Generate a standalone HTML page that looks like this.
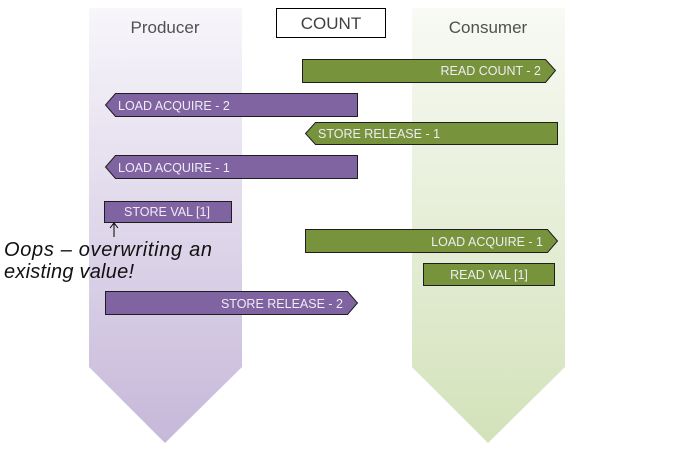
<!DOCTYPE html>
<html><head><meta charset="utf-8"><style>html,body{margin:0;padding:0;background:#fff}</style></head><body>
<svg width="684" height="455" xmlns="http://www.w3.org/2000/svg" font-family="Liberation Sans, sans-serif">
<defs>
<linearGradient id="gp" x1="0" y1="0" x2="0" y2="1"><stop offset="0" stop-color="#f8f6fb"/><stop offset="1" stop-color="#c6b8d9"/></linearGradient>
<linearGradient id="gg" x1="0" y1="0" x2="0" y2="1"><stop offset="0" stop-color="#f8faf4"/><stop offset="1" stop-color="#d3e2ba"/></linearGradient>
</defs>
<polygon points="89,8 242,8 242,367 165,443 89,367" fill="url(#gp)"/>
<polygon points="412,8 565,8 565,367 488,443 412,367" fill="url(#gg)"/>
<text x="165" y="33" font-size="17" fill="#505050" text-anchor="middle">Producer</text>
<text x="488" y="33" font-size="17" fill="#505050" text-anchor="middle">Consumer</text>
<rect x="276.5" y="8.5" width="109" height="29" fill="#fff" stroke="#000"/>
<text x="331" y="29" font-size="17" fill="#404040" text-anchor="middle">COUNT</text>
<g stroke="#1e1e1e" stroke-width="1" font-size="12.5">
<polygon points="302.5,59.5 545.5,59.5 555.5,70.5 545.5,82.5 302.5,82.5" fill="#77933c"/>
<polygon points="115.5,93.5 357.5,93.5 357.5,116.5 115.5,116.5 105.5,105" fill="#8064a2"/>
<polygon points="315.5,122.5 557.5,122.5 557.5,144.5 315.5,144.5 305.5,133.5" fill="#77933c"/>
<polygon points="115.5,155.5 357.5,155.5 357.5,178.5 115.5,178.5 105.5,167" fill="#8064a2"/>
<rect x="104.5" y="201.5" width="127" height="21" fill="#8064a2"/>
<polygon points="305.5,229.5 547.5,229.5 557.5,241 547.5,252.5 305.5,252.5" fill="#77933c"/>
<rect x="423.5" y="263.5" width="131" height="22" fill="#77933c"/>
<polygon points="105.5,291.5 347.5,291.5 357.5,303 347.5,314.5 105.5,314.5" fill="#8064a2"/>
</g>
<g font-size="12.5" fill="#f0ecf5" stroke="none">
<text x="541" y="75" text-anchor="end">READ COUNT - 2</text>
<text x="118" y="110">LOAD ACQUIRE - 2</text>
<text x="318" y="138">STORE RELEASE - 1</text>
<text x="118" y="172">LOAD ACQUIRE - 1</text>
<text x="167" y="216" text-anchor="middle">STORE VAL [1]</text>
<text x="543" y="246" text-anchor="end">LOAD ACQUIRE - 1</text>
<text x="489" y="279" text-anchor="middle">READ VAL [1]</text>
<text x="343" y="308" text-anchor="end">STORE RELEASE - 2</text>
</g>
<line x1="114" y1="224" x2="114" y2="237" stroke="#000"/>
<polyline points="110,228 114,223 118,228" fill="none" stroke="#000"/>
<text x="4" y="256" font-size="20" font-style="italic" fill="#111" textLength="208" lengthAdjust="spacing">Oops – overwriting an</text>
<text x="4" y="278" font-size="20" font-style="italic" fill="#111" textLength="130" lengthAdjust="spacing">existing value!</text>
</svg>
</body></html>
